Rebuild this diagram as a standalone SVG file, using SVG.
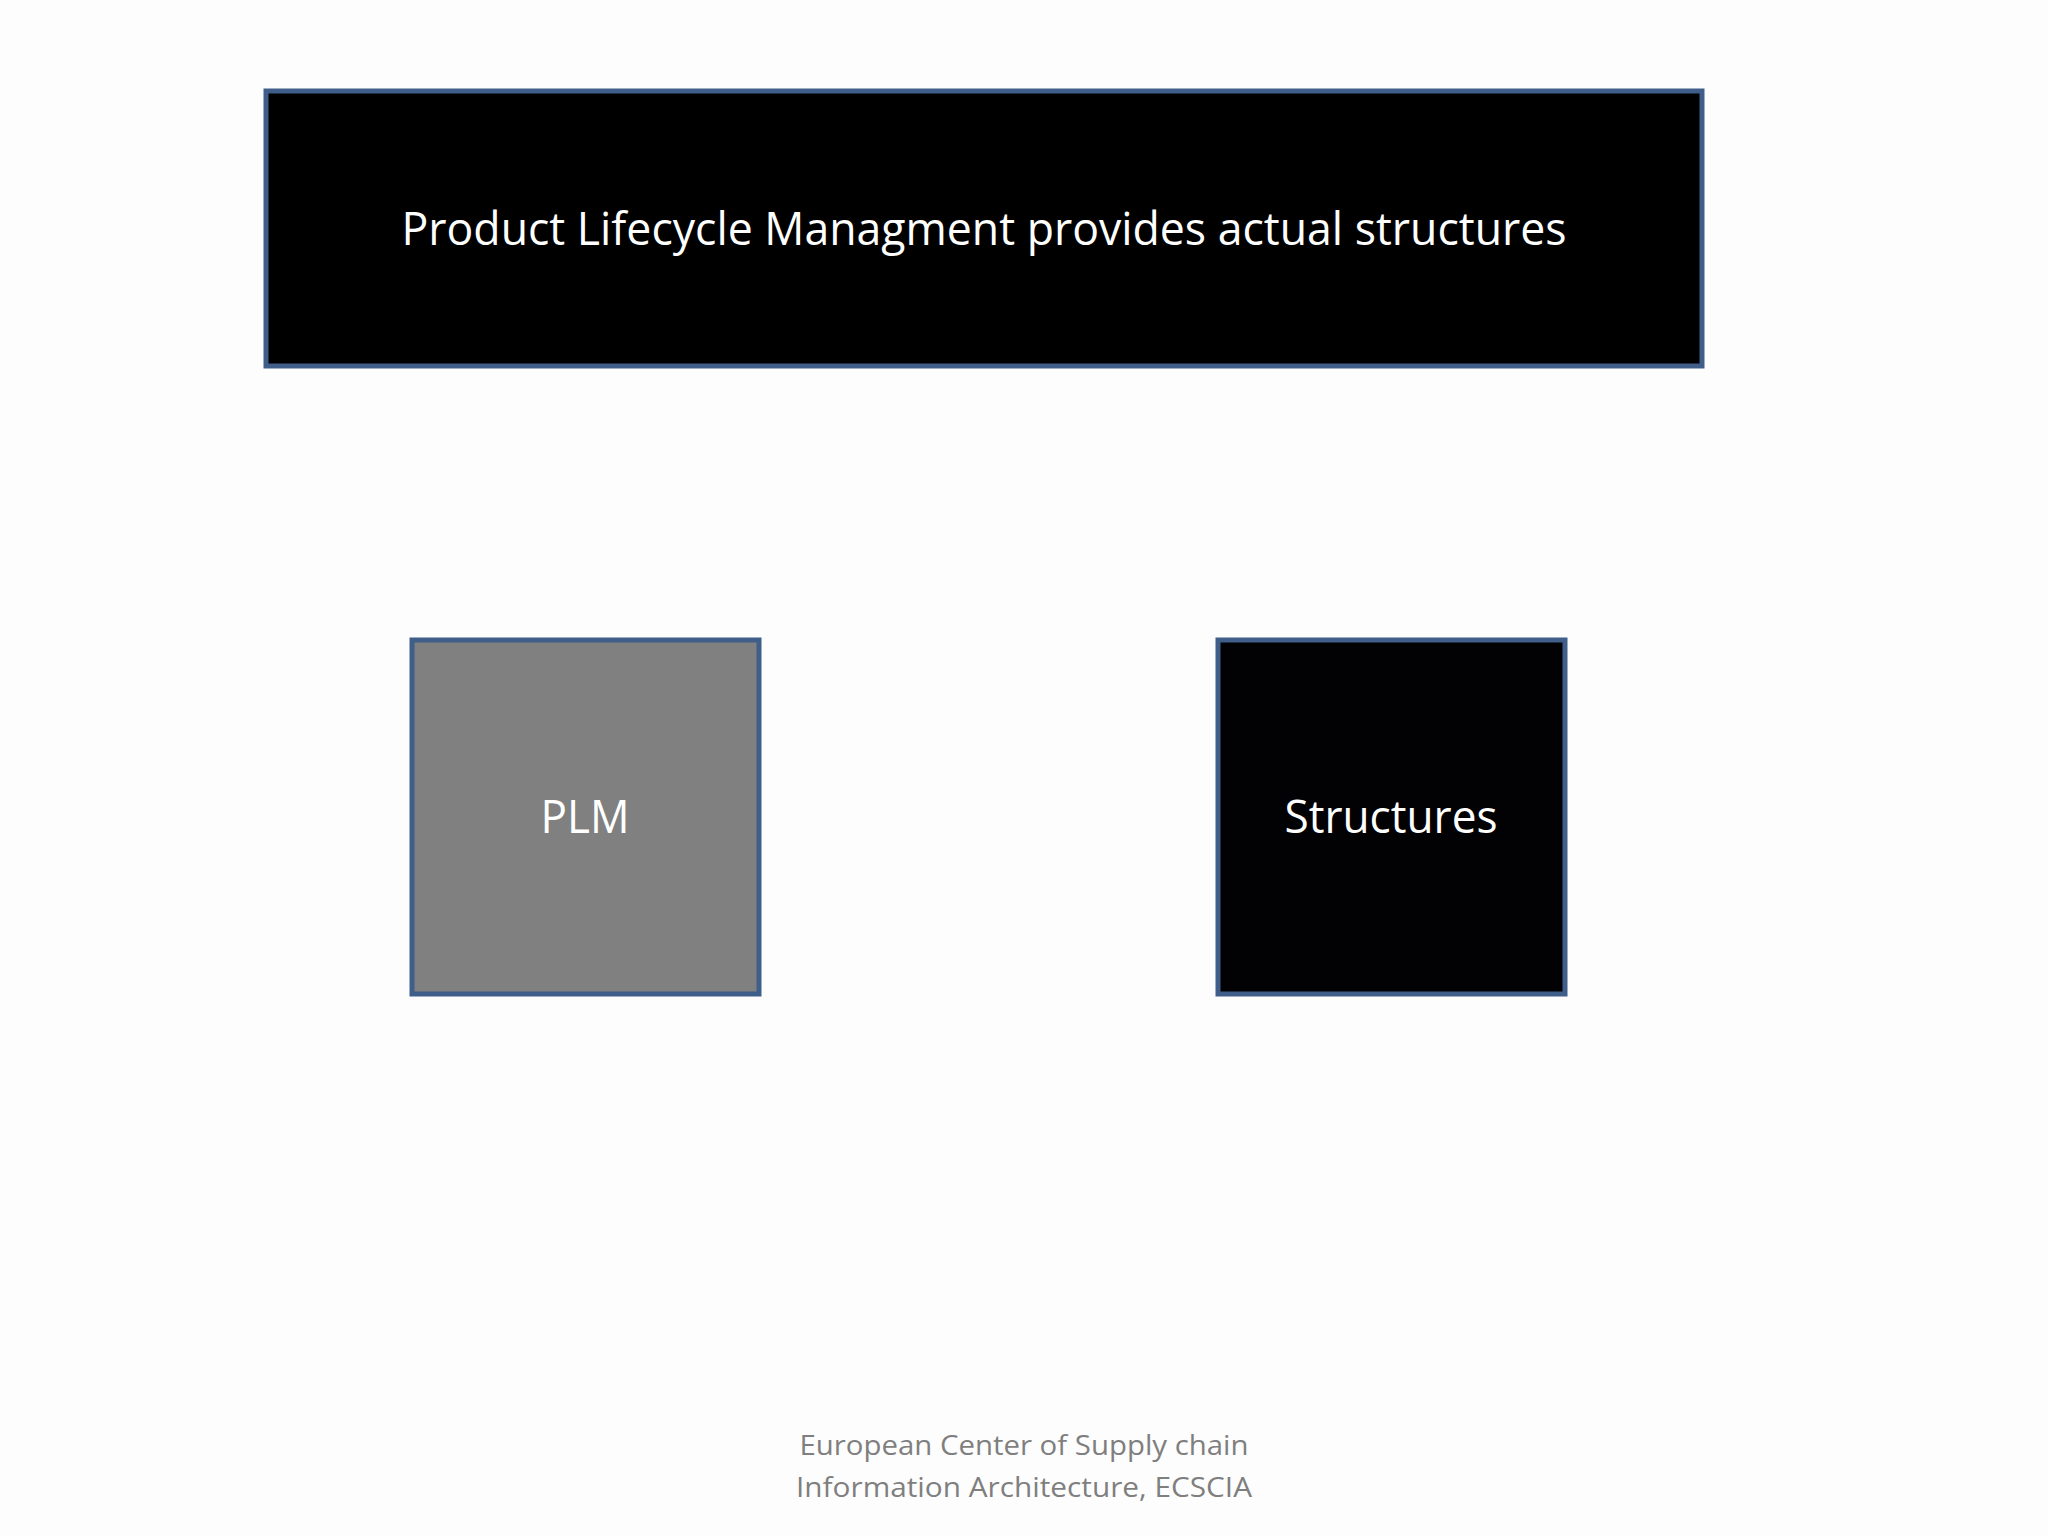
<svg xmlns="http://www.w3.org/2000/svg" width="2048" height="1536" viewBox="0 0 2048 1536">
<style>
.box{stroke:#3f5f8a;stroke-width:5}
.lbl{font-family:"Open Sans","Liberation Sans",sans-serif;fill:#ffffff;text-anchor:middle}
.foot{font-family:"Open Sans","Liberation Sans",sans-serif;fill:#7f7f7f;font-size:28px;text-anchor:middle}
</style>
<rect width="2048" height="1536" fill="#fdfdfd"/>
<g id="title">
<rect class="box" x="266" y="91" width="1436" height="275" fill="#000000"/>
<text class="lbl" x="984" y="245" font-size="46" textLength="1165" lengthAdjust="spacingAndGlyphs">Product Lifecycle Managment provides actual structures</text>
</g>
<g id="plm">
<rect class="box" x="412" y="640" width="347" height="354" fill="#7f807f"/>
<text class="lbl" x="585" y="833" font-size="46" textLength="89" lengthAdjust="spacingAndGlyphs">PLM</text>
</g>
<g id="structures">
<rect class="box" x="1218" y="640" width="347" height="354" fill="#020204"/>
<text class="lbl" x="1391" y="833" font-size="46" textLength="213" lengthAdjust="spacingAndGlyphs">Structures</text>
</g>
<g id="connectors"></g>
<g id="footer">
<text class="foot" x="1024" y="1455" textLength="449" lengthAdjust="spacingAndGlyphs">European Center of Supply chain</text>
<text class="foot" x="1024" y="1497" textLength="456" lengthAdjust="spacingAndGlyphs">Information Architecture, ECSCIA</text>
</g>
</svg>
